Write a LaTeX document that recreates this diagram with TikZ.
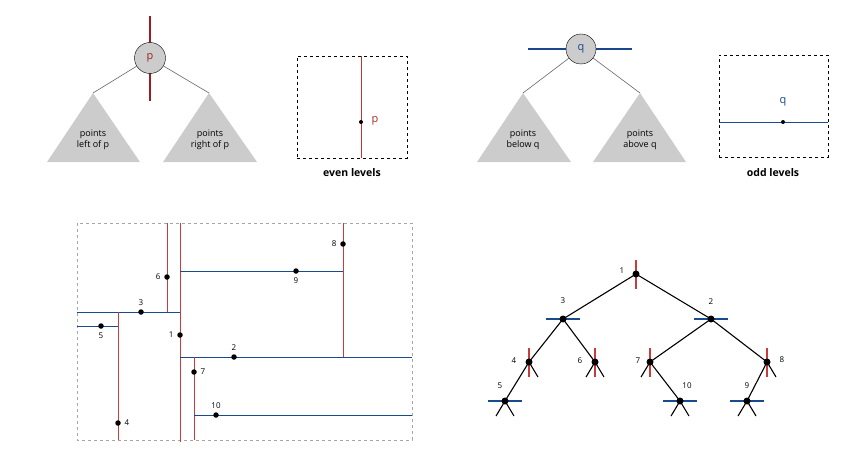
\documentclass[tikz,border=0pt]{standalone}
\usepackage{fontspec}
\setmainfont{Open Sans}
\begin{document}
\begin{tikzpicture}[x=1pt,y=-1pt,
  redl/.style={draw={rgb,255:red,200;green,60;blue,60},line width=0.9pt},
  bluel/.style={draw={rgb,255:red,25;green,75;blue,140},line width=0.9pt},
  dot/.style={circle,fill=black,inner sep=0pt,minimum size=5.5pt},
  tdot/.style={circle,fill=black,inner sep=0pt,minimum size=7pt},
  lbl/.style={font=\fontsize{8}{9}\selectfont},
  tri/.style={fill=black!20,draw=none},
  tt/.style={font=\fontsize{9}{10}\selectfont,align=center},
  tedge/.style={draw=black,line width=1.1pt},
  gedge/.style={draw=black!60,line width=0.6pt},
  captext/.style={font=\bfseries\fontsize{10.5}{12}\selectfont}]
\useasboundingbox (0,0) rectangle (856,468);
% ---- top left
\draw[line width=2.2pt,draw={rgb,255:red,150;green,30;blue,30}] (150,16) -- (150,101);
\node[circle,draw=black,fill=black!20,minimum size=31pt,inner sep=0pt,text={rgb,255:red,150;green,40;blue,30},font=\fontsize{11}{12}\selectfont] (p) at (150,58) {p};
\coordinate (la) at (93,93); \coordinate (ra) at (209,93);
\fill[tri] (la) -- (140,162) -- (47,162) -- cycle;
\fill[tri] (ra) -- (257,162) -- (163,162) -- cycle;
\draw[gedge] (p) -- (la); \draw[gedge] (p) -- (ra);
\node[tt] (lt) at (93,140) {points\\[1pt]left of p};
\node[tt] (rt) at (210,140) {points\\[1pt]right of p};
\node[draw,dashed,minimum width=110pt,minimum height=102pt,inner sep=0pt] (eb) at (352,107) {};
\draw[line width=0.8pt,draw={rgb,255:red,200;green,50;blue,50}] (eb.north -| 361,0) -- (eb.south -| 361,0);
\node[circle,fill=black,inner sep=0pt,minimum size=4pt] (pp) at (361,122) {};
\node[font=\fontsize{11}{12}\selectfont,text={rgb,255:red,170;green,40;blue,30}] (pl) at (375,121) {p};
\node[captext] (ev) at (352,173) {even levels};
% ---- top right
\draw[line width=2.2pt,draw={rgb,255:red,25;green,70;blue,140}] (528,49) -- (632,49);
\node[circle,draw=black,fill=black!20,minimum size=30pt,inner sep=0pt,text={rgb,255:red,25;green,70;blue,140},font=\fontsize{11}{12}\selectfont] (q) at (581,49) {q};
\coordinate (la2) at (523,93); \coordinate (ra2) at (640,93);
\fill[tri] (la2) -- (571,162) -- (477,162) -- cycle;
\fill[tri] (ra2) -- (686,162) -- (593,162) -- cycle;
\draw[gedge] (q) -- (la2); \draw[gedge] (q) -- (ra2);
\node[tt] (lt2) at (523,140) {points\\[1pt]below q};
\node[tt] (rt2) at (640,140) {points\\[1pt]above q};
\node[draw,dashed,minimum width=109pt,minimum height=102pt,inner sep=0pt] (ob) at (773.5,106) {};
\draw[line width=0.8pt,draw={rgb,255:red,25;green,75;blue,140}] (ob.west |- 0,122) -- (ob.east |- 0,122);
\node[circle,fill=black,inner sep=0pt,minimum size=4pt] (qq) at (783,122) {};
\node[font=\fontsize{11}{12}\selectfont,text={rgb,255:red,25;green,70;blue,140}] (ql) at (783,102) {q};
\node[captext] (od) at (773,173) {odd levels};
% ---- bottom left
\draw[dashed,draw=black!35] (77,223) rectangle (412,440);
\draw[redl] (180,223) -- (180,442);
\draw[bluel] (77,312) -- (180,312);
\draw[redl] (167,223) -- (167,312);
\draw[bluel] (180,357) -- (412,357);
\draw[redl] (343,223) -- (343,357);
\draw[bluel] (180,271) -- (343,271);
\draw[redl] (194,357) -- (194,440);
\draw[bluel] (194,415) -- (412,415);
\draw[redl] (118,312) -- (118,440);
\draw[bluel] (77,326) -- (118,326);
\node[dot] (a1) at (180,335) {}; \node[lbl,left=3pt] at (a1) {1};
\node[dot] (a2) at (234,357) {}; \node[lbl,above=3pt] at (a2) {2};
\node[dot] (a3) at (141,312) {}; \node[lbl,above=3pt] at (a3) {3};
\node[dot] (a4) at (118,423) {}; \node[lbl,right=3pt] at (a4) {4};
\node[dot] (a5) at (101,326) {}; \node[lbl,below=3pt] at (a5) {5};
\node[dot] (a6) at (167,277) {}; \node[lbl,left=3pt] at (a6) {6};
\node[dot] (a7) at (194,372) {}; \node[lbl,right=3pt] at (a7) {7};
\node[dot] (a8) at (343,244) {}; \node[lbl,left=3pt] at (a8) {8};
\node[dot] (a9) at (296,271) {}; \node[lbl,below=3pt] at (a9) {9};
\node[dot] (a10) at (216,415) {}; \node[lbl,above=3pt] at (a10) {10};
% ---- bottom right tree
\coordinate (n1) at (636,274); \coordinate (n3) at (563,319); \coordinate (n2) at (711,319);
\coordinate (n4) at (529,362); \coordinate (n6) at (595,362); \coordinate (n7) at (650,362); \coordinate (n8) at (767,362);
\coordinate (n5) at (505,401); \coordinate (n10) at (680,401); \coordinate (n9) at (747,401);
\draw[tedge] (n1) -- (n3); \draw[tedge] (n1) -- (n2);
\draw[tedge] (n3) -- (n4); \draw[tedge] (n3) -- (n6);
\draw[tedge] (n2) -- (n7); \draw[tedge] (n2) -- (n8);
\draw[tedge] (n4) -- (n5); \draw[tedge] (n7) -- (n10); \draw[tedge] (n8) -- (n9);
\foreach \n/\l/\r in {n4/0/1,n6/1/1,n7/1/0,n8/0/1,n5/1/1,n10/1/1,n9/1/1}{
  \ifnum\l=1 \draw[tedge] (\n) -- ++(-9,15); \fi
  \ifnum\r=1 \draw[tedge] (\n) -- ++(9,15); \fi
}
\foreach \n in {n1,n4,n6,n7,n8}{\draw[redl,line width=1.1pt] (\n) ++(0,-14) -- ++(0,29);}
\foreach \n in {n3,n2,n5,n10,n9}{\draw[bluel,line width=1.1pt] (\n) ++(-17,0) -- ++(34,0);}
\foreach \n in {n1,n2,n3,n4,n5,n6,n7,n8,n9,n10}{\node[tdot] at (\n) {};}
\node[lbl] at (622,271) {1};
\node[lbl] at (563,301) {3};
\node[lbl] at (711,302) {2};
\node[lbl] at (514,361) {4};
\node[lbl] at (580,361) {6};
\node[lbl] at (638,361) {7};
\node[lbl] at (782,360) {8};
\node[lbl] at (500,386) {5};
\node[lbl] at (687,386) {10};
\node[lbl] at (747,386) {9};
\end{tikzpicture}
\end{document}
